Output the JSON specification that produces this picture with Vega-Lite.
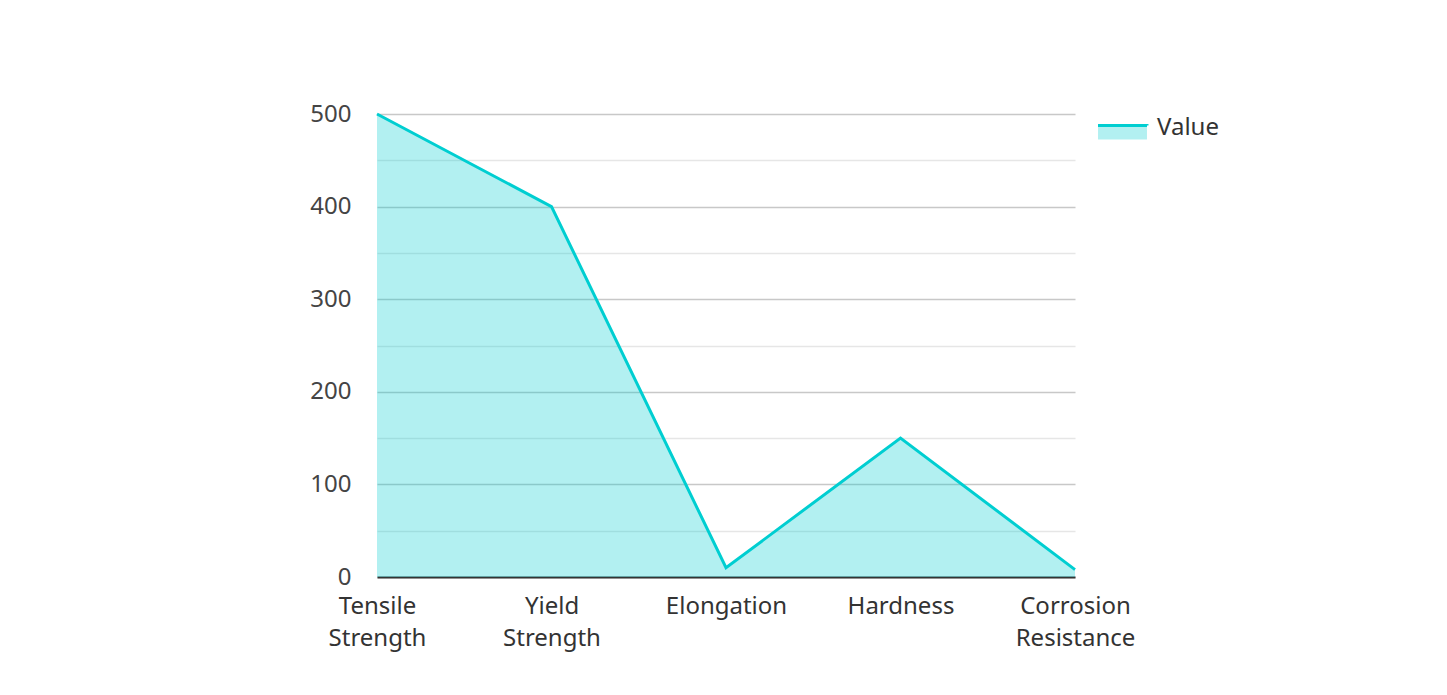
{
  "$schema": "https://vega.github.io/schema/vega-lite/v6.json",
  "width": 698,
  "height": 463,
  "autosize": {"type": "none"},
  "padding": {"left": 377, "top": 114, "right": 372, "bottom": 118},
  "background": "white",
  "config": {"font": "Noto Sans", "view": {"stroke": null}},
  "data": {"values": [
    {"property": "Tensile Strength", "value": 500, "series": "Value"},
    {"property": "Yield Strength", "value": 400, "series": "Value"},
    {"property": "Elongation", "value": 10, "series": "Value"},
    {"property": "Hardness", "value": 150, "series": "Value"},
    {"property": "Corrosion Resistance", "value": 8, "series": "Value"}
  ]},
  "encoding": {
    "x": {
      "field": "property", "type": "nominal", "sort": null,
      "scale": {"type": "point", "padding": 0},
      "axis": {
        "title": null, "labelAngle": 0, "grid": false, "ticks": false,
        "domainColor": "#333333", "domainWidth": 2,
        "labelExpr": "split(datum.label, ' ')",
        "labelFontSize": 24, "labelLineHeight": 32, "labelColor": "#333333",
        "labelPadding": 17, "labelBaseline": "top"
      }
    },
    "y": {
      "field": "value", "type": "quantitative",
      "scale": {"domain": [0, 500], "nice": false},
      "axis": {
        "title": null, "domain": false, "ticks": false,
        "values": [0, 50, 100, 150, 200, 250, 300, 350, 400, 450, 500],
        "labelExpr": "datum.value % 100 === 0 ? datum.label : ''",
        "gridColor": {"condition": {"test": "datum.value % 100 === 0", "value": "#c8c8c8"}, "value": "#e6e6e6"},
        "gridWidth": 1.5,
        "labelFontSize": 24, "labelColor": "#444444", "labelPadding": 26
      }
    },
    "color": {
      "field": "series", "type": "nominal",
      "scale": {"range": ["#00CED1"]},
      "legend": {
        "title": null, "orient": "right", "offset": 28, "padding": 0,
        "symbolType": "M-2.04,-0.17L2.04,-0.17L2.04,1L-2.04,1Z",
        "symbolSize": 576, "symbolStrokeWidth": 3,
        "symbolStrokeColor": "#00CED1",
        "symbolDash": [49, 1000],
        "labelFontSize": 24, "labelColor": "#333333", "labelOffset": 21,
        "encode": {"symbols": {"update": {"fillOpacity": {"value": 0.3}, "strokeOpacity": {"value": 1}, "stroke": {"value": "#00CED1"}, "fill": {"value": "#00CED1"}}}}
      }
    }
  },
  "layer": [
    {"mark": {"type": "area", "fillOpacity": 0.3}},
    {"mark": {"type": "line", "strokeWidth": 3}}
  ]
}
